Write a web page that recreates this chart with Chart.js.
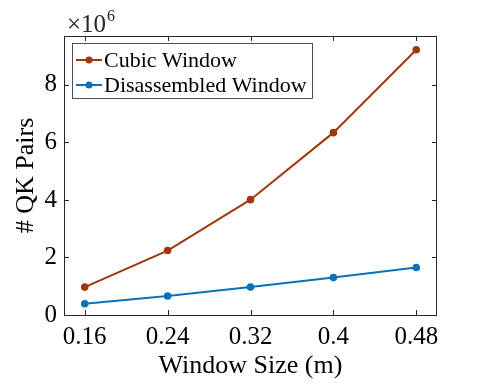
<!DOCTYPE html>
<html>
<head>
<meta charset="utf-8">
<script src="https://cdn.jsdelivr.net/npm/chart.js@4.4.0/dist/chart.umd.min.js"></script>
<style>
  html, body { margin: 0; padding: 0; background: #fff; }
  #wrap { width: 488px; height: 384px; }
</style>
</head>
<body>
<div id="wrap"><canvas id="chart"></canvas></div>
<script>
(function () {
    "use strict";

    // Data
    const windowSizes = [0.16, 0.24, 0.32, 0.4, 0.48];
    const cubicPairs = [0.97e6, 2.24e6, 4.01e6, 6.34e6, 9.22e6];
    const disassembledPairs = [0.39e6, 0.66e6, 0.97e6, 1.30e6, 1.65e6];
    const yTicks = [0, 2e6, 4e6, 6e6, 8e6];
    const seriesNames = ["Cubic Window", "Disassembled Window"];

    const FONT = "'Liberation Serif', 'Times New Roman', serif";
    const AXIS = "#262626";

    const toPoints = (vals) => vals.map((v, i) => ({ x: windowSizes[i], y: v }));

    // box, inward ticks, legend and exponent label (MATLAB look)
    const matlabAxes = {
        id: "matlabAxes",
        afterDraw(chart) {
            const ctx = chart.ctx;
            const a = chart.chartArea;
            const xs = chart.scales.x;
            const ys = chart.scales.y;
            ctx.save();
            ctx.strokeStyle = AXIS;
            ctx.lineWidth = 1;
            ctx.strokeRect(a.left + 0.5, a.top + 0.5, a.right - a.left - 1, a.bottom - a.top);

            const tl = 5;
            ctx.beginPath();
            windowSizes.forEach((v) => {
                const px = Math.round(xs.getPixelForValue(v)) + 0.5;
                ctx.moveTo(px, a.bottom);
                ctx.lineTo(px, a.bottom - tl);
                ctx.moveTo(px, a.top);
                ctx.lineTo(px, a.top + tl);
            });
            yTicks.forEach((v) => {
                const py = Math.round(ys.getPixelForValue(v)) + 0.5;
                ctx.moveTo(a.left, py);
                ctx.lineTo(a.left + tl, py);
                ctx.moveTo(a.right, py);
                ctx.lineTo(a.right - tl, py);
            });
            ctx.stroke();

            // exponent
            ctx.fillStyle = AXIS;
            ctx.font = "25px " + FONT;
            ctx.textBaseline = "alphabetic";
            ctx.textAlign = "left";
            ctx.fillText("\u00d710", a.left + 3, a.top - 4);
            const w = ctx.measureText("\u00d710").width;
            ctx.font = "16px " + FONT;
            ctx.fillText("6", a.left + 4 + w, a.top - 15);

            // legend
            const lx = 72, ly = 43, lw = 240, lh = 55;
            ctx.fillStyle = "#fff";
            ctx.fillRect(lx, ly, lw, lh);
            ctx.strokeStyle = "#262626";
            ctx.lineWidth = 0.8;
            ctx.strokeRect(lx + 0.5, ly + 0.5, lw, lh);
            ctx.font = "22px " + FONT;
            ctx.textBaseline = "middle";
            chart.data.datasets.forEach((ds, i) => {
                const cy = ly + 17 + i * 25;
                ctx.strokeStyle = ds.borderColor;
                ctx.lineWidth = 2;
                ctx.beginPath();
                ctx.moveTo(lx + 4, cy);
                ctx.lineTo(lx + 30, cy);
                ctx.stroke();
                ctx.fillStyle = ds.borderColor;
                ctx.beginPath();
                ctx.arc(lx + 17, cy, 3.5, 0, Math.PI * 2);
                ctx.fill();
                ctx.fillStyle = "#000";
                ctx.fillText(ds.label, lx + 32, cy + 1);
            });
            ctx.restore();
        },
    };

    const ctx = document.getElementById("chart").getContext("2d");

    new Chart(ctx, {
        type: "line",
        data: {
            datasets: [
                {
                    label: seriesNames[0],
                    data: toPoints(cubicPairs),
                    borderColor: "#a0380c",
                    backgroundColor: "#a0380c",
                    borderWidth: 2,
                    pointRadius: 3.8,
                    pointBorderWidth: 0,
                },
                {
                    label: seriesNames[1],
                    data: toPoints(disassembledPairs),
                    borderColor: "#0a72bd",
                    backgroundColor: "#0a72bd",
                    borderWidth: 2,
                    pointRadius: 3.8,
                    pointBorderWidth: 0,
                },
            ],
        },
        options: {
            responsive: true,
            maintainAspectRatio: false,
            animation: false,
            layout: { padding: { top: 36, right: 51, left: 0, bottom: 0 } },
            plugins: {
                legend: { display: false },
                tooltip: { enabled: false },
            },
            scales: {
                x: {
                    type: "linear",
                    min: 0.14,
                    max: 0.5,
                    afterBuildTicks: (scale) => {
                        scale.ticks = windowSizes.map((v) => ({ value: v }));
                    },
                    afterFit: (scale) => { scale.height = 69; },
                    grid: { display: false, drawTicks: false },
                    border: { display: false },
                    ticks: {
                        color: "#000",
                        font: { family: FONT, size: 25 },
                        padding: 7,
                        maxRotation: 0,
                        autoSkip: false,
                        callback: (v) => String(v),
                    },
                    title: {
                        display: true,
                        text: "Window Size (m)",
                        color: "#000",
                        font: { family: FONT, size: 26 },
                        padding: { top: 0, bottom: 2 },
                    },
                },
                y: {
                    min: 0,
                    max: 9.7e6,
                    afterBuildTicks: (scale) => {
                        scale.ticks = yTicks.map((v) => ({ value: v }));
                    },
                    afterFit: (scale) => { scale.width = 64; },
                    grid: { display: false, drawTicks: false },
                    border: { display: false },
                    ticks: {
                        color: "#000",
                        font: { family: FONT, size: 25 },
                        padding: 7,
                        callback: (v) => String(v / 1e6),
                    },
                    title: {
                        display: true,
                        text: "# QK Pairs",
                        color: "#000",
                        font: { family: FONT, size: 26 },
                        padding: { top: 11, bottom: 0 },
                    },
                },
            },
        },
        plugins: [matlabAxes],
    });
})();
</script>
</body>
</html>
